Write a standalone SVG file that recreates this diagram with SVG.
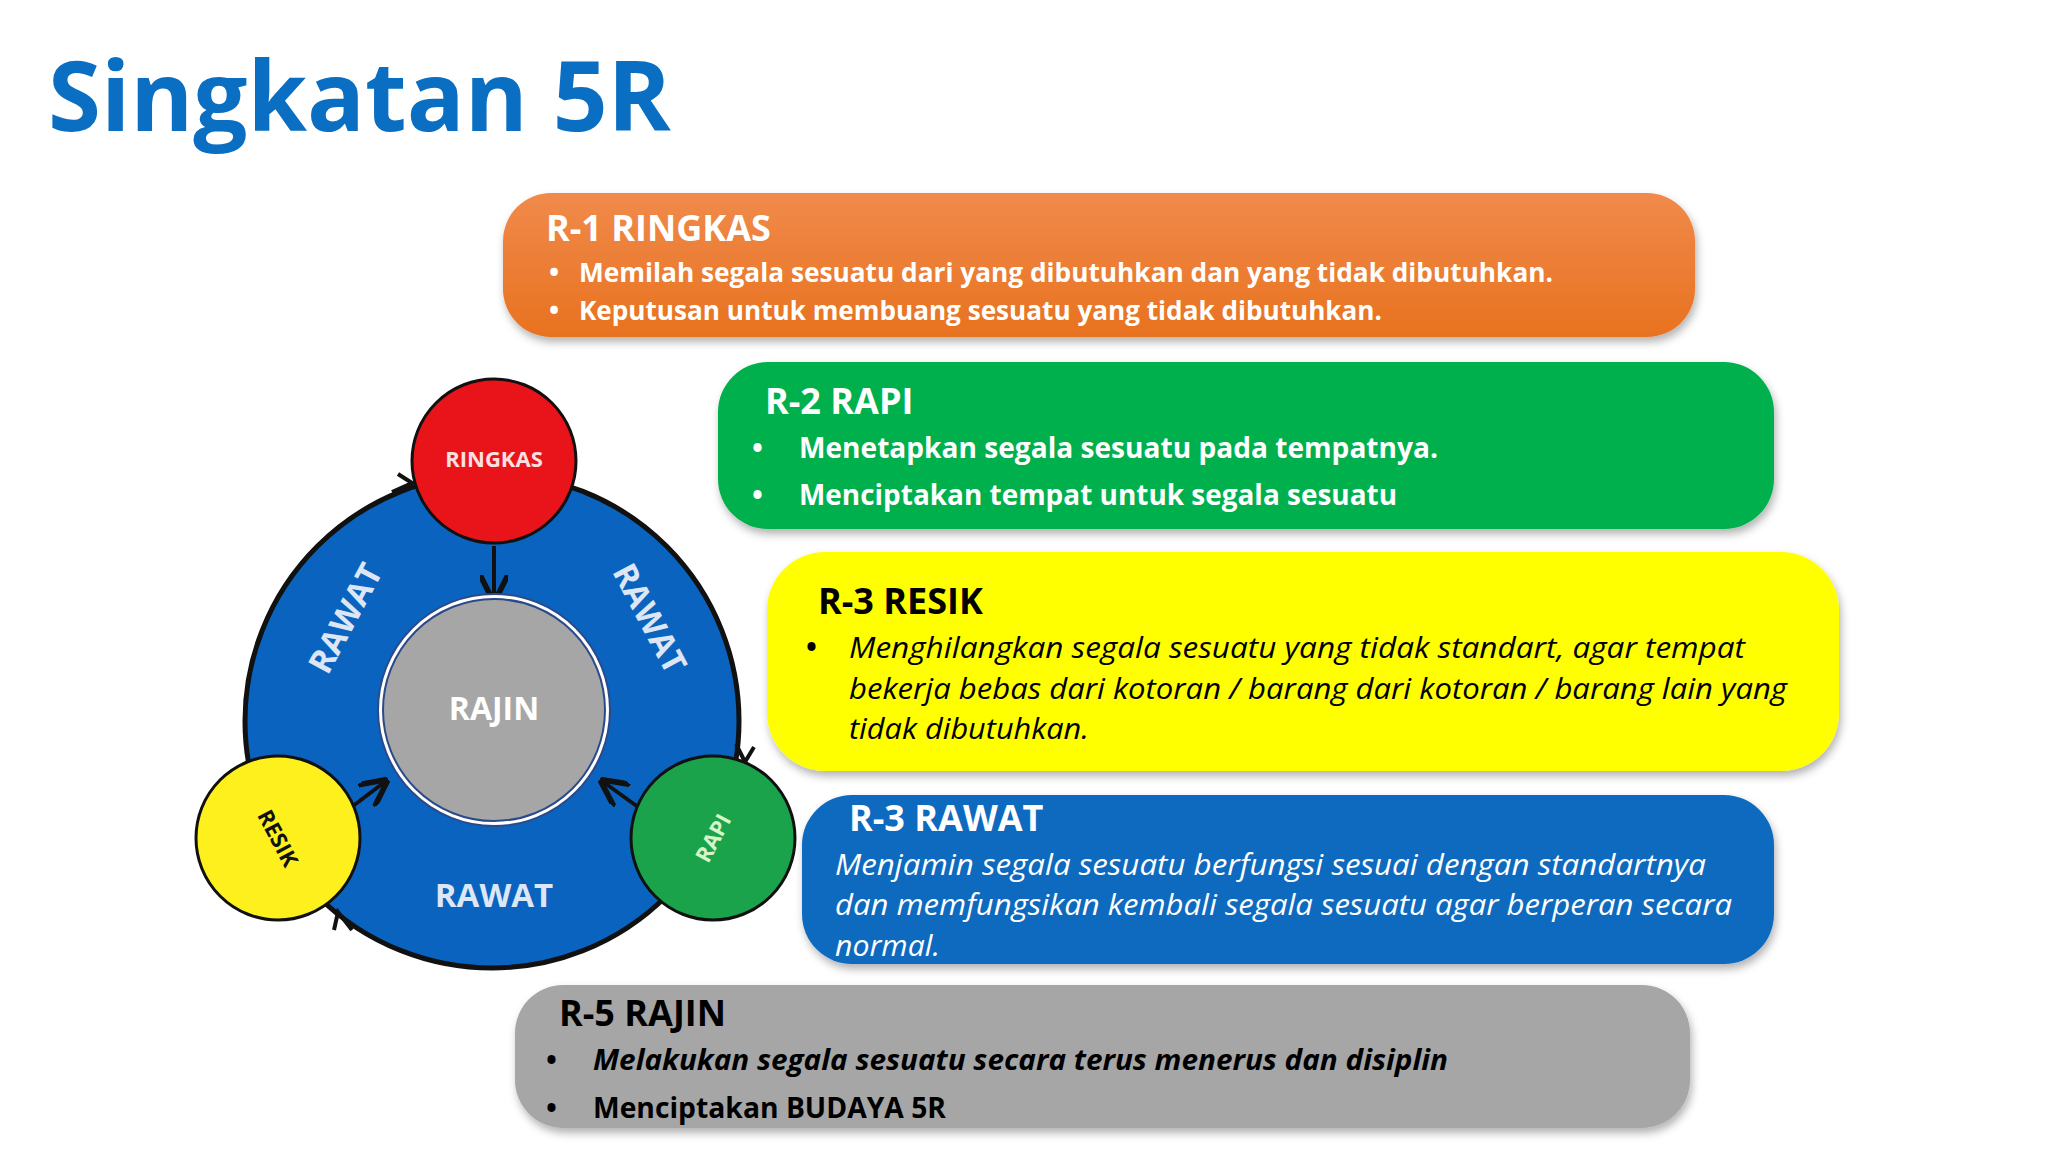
<svg xmlns="http://www.w3.org/2000/svg" width="2048" height="1152" viewBox="0 0 2048 1152">
<defs>
<linearGradient id="og" x1="0" y1="0" x2="0" y2="1"><stop offset="0" stop-color="#F08A4B"/><stop offset="1" stop-color="#E8721F"/></linearGradient>
<filter id="sh" x="-5%" y="-10%" width="110%" height="130%"><feDropShadow dx="2" dy="5" stdDeviation="4" flood-color="#000" flood-opacity="0.3"/></filter>
<marker id="ah" viewBox="0 0 10 10" refX="9" refY="5" markerWidth="7" markerHeight="7" orient="auto"><path d="M0,0 L10,5 L0,10" fill="none" stroke="#111" stroke-width="2"/></marker>
</defs>
<style>
.t{font-family:"Open Sans","Noto Sans",sans-serif;font-weight:bold}
.h{font-size:36px}
.b{font-size:29px}
.w{fill:#fff}.k{fill:#000}
.i{font-style:italic;font-weight:normal}
</style>
<rect width="2048" height="1152" fill="#fff"/>
<text x="48" y="131" class="t" font-size="96" fill="#0A6FC2">Singkatan 5R</text>

<g id="diagram">
<circle cx="492" cy="721" r="247" fill="#0A63BE" stroke="#111" stroke-width="5"/>
<g id="connectors" stroke="#111" stroke-width="4" fill="none">
<line x1="494" y1="546" x2="494" y2="600" marker-end="url(#ah)"/>
<line x1="345" y1="812" x2="386" y2="781" marker-end="url(#ah)"/>
<line x1="645" y1="812" x2="602" y2="781" marker-end="url(#ah)"/>
<path d="M392,492 l20,-9 l-14,-9" />
<path d="M736,744 l9,18 l9,-15" />
<path d="M352,930 l-14,-18 l-4,18" />
</g>
<g id="rajin"><circle cx="494" cy="710" r="116" fill="#fff" stroke="#2A4A8A" stroke-width="2"/><circle cx="494" cy="710" r="111" fill="#A6A6A6" stroke="#2A4A8A" stroke-width="2"/>
<text x="494" y="720" text-anchor="middle" class="t" font-size="32" fill="#fff">RAJIN</text></g>
<g id="ringkas"><circle cx="494" cy="461" r="82" fill="#E8141A" stroke="#111" stroke-width="3"/>
<text x="494" y="467" text-anchor="middle" class="t" font-size="22" fill="#FBE0E0">RINGKAS</text></g>
<g id="resik"><circle cx="278" cy="838" r="82" fill="#FDF01C" stroke="#111" stroke-width="3"/>
<text transform="translate(278,838) rotate(62)" y="8" text-anchor="middle" class="t" font-size="22" fill="#111">RESIK</text></g>
<g id="rapi"><circle cx="713" cy="838" r="82" fill="#1AA34A" stroke="#111" stroke-width="3"/>
<text transform="translate(713,838) rotate(-62)" y="8" text-anchor="middle" class="t" font-size="22" fill="#D8F5C8">RAPI</text></g>
<text transform="translate(345,618) rotate(-62)" y="12" text-anchor="middle" class="t" font-size="33" fill="#DCE6F5">RAWAT</text>
<text transform="translate(650,618) rotate(62)" y="12" text-anchor="middle" class="t" font-size="33" fill="#DCE6F5">RAWAT</text>
<text x="494" y="907" text-anchor="middle" class="t" font-size="33" fill="#DCE6F5">RAWAT</text>
</g>

<g id="r1"><rect x="503" y="193" width="1192" height="144" rx="48" fill="url(#og)" filter="url(#sh)"/>
<text x="546" y="241" class="t h w">R-1 RINGKAS</text>
<text class="t w" font-size="27"><tspan x="549" y="282">•</tspan><tspan x="579" y="282" textLength="974" lengthAdjust="spacingAndGlyphs">Memilah segala sesuatu dari yang dibutuhkan dan yang tidak dibutuhkan.</tspan><tspan x="549" y="320">•</tspan><tspan x="579" y="320" textLength="803" lengthAdjust="spacingAndGlyphs">Keputusan untuk membuang sesuatu yang tidak dibutuhkan.</tspan></text></g>

<g id="r2"><rect x="718" y="362" width="1056" height="167" rx="50" fill="#02B04E" filter="url(#sh)"/>
<text x="765" y="414" class="t h w">R-2 RAPI</text>
<text class="t b w"><tspan x="752" y="458">•</tspan><tspan x="799" y="458" textLength="639" lengthAdjust="spacingAndGlyphs">Menetapkan segala sesuatu pada tempatnya.</tspan><tspan x="752" y="505">•</tspan><tspan x="799" y="505" textLength="598" lengthAdjust="spacingAndGlyphs">Menciptakan tempat untuk segala sesuatu</tspan></text></g>

<g id="r3"><rect x="767" y="552" width="1072" height="219" rx="58" fill="#FFFF00" filter="url(#sh)"/>
<text x="818" y="614" class="t h k">R-3 RESIK</text>
<text x="806" y="657" class="t b k">•</text>
<text class="t b k i" font-style="italic"><tspan x="849" y="658" textLength="896" lengthAdjust="spacingAndGlyphs">Menghilangkan segala sesuatu yang tidak standart, agar tempat</tspan><tspan x="849" y="699" textLength="938" lengthAdjust="spacingAndGlyphs">bekerja bebas dari kotoran / barang dari kotoran / barang lain yang</tspan><tspan x="849" y="739" textLength="240" lengthAdjust="spacingAndGlyphs">tidak dibutuhkan.</tspan></text></g>

<g id="r4"><rect x="802" y="795" width="972" height="169" rx="50" fill="#0A6ABF" filter="url(#sh)"/>
<text x="849" y="831" class="t h w">R-3 RAWAT</text>
<text class="t b w i"><tspan x="835" y="875" textLength="871" lengthAdjust="spacingAndGlyphs">Menjamin segala sesuatu berfungsi sesuai dengan standartnya</tspan><tspan x="835" y="915" textLength="897" lengthAdjust="spacingAndGlyphs">dan memfungsikan kembali segala sesuatu agar berperan secara</tspan><tspan x="835" y="956" textLength="105" lengthAdjust="spacingAndGlyphs">normal.</tspan></text></g>

<g id="r5"><rect x="515" y="985" width="1175" height="143" rx="48" fill="#A6A6A6" filter="url(#sh)"/>
<text x="559" y="1026" class="t h k">R-5 RAJIN</text>
<text class="t b k"><tspan x="546" y="1070">•</tspan><tspan x="593" y="1070" font-style="italic" textLength="855" lengthAdjust="spacingAndGlyphs">Melakukan segala sesuatu secara terus menerus dan disiplin</tspan><tspan x="546" y="1118">•</tspan><tspan x="593" y="1118" textLength="353" lengthAdjust="spacingAndGlyphs">Menciptakan BUDAYA 5R</tspan></text></g>
</svg>
